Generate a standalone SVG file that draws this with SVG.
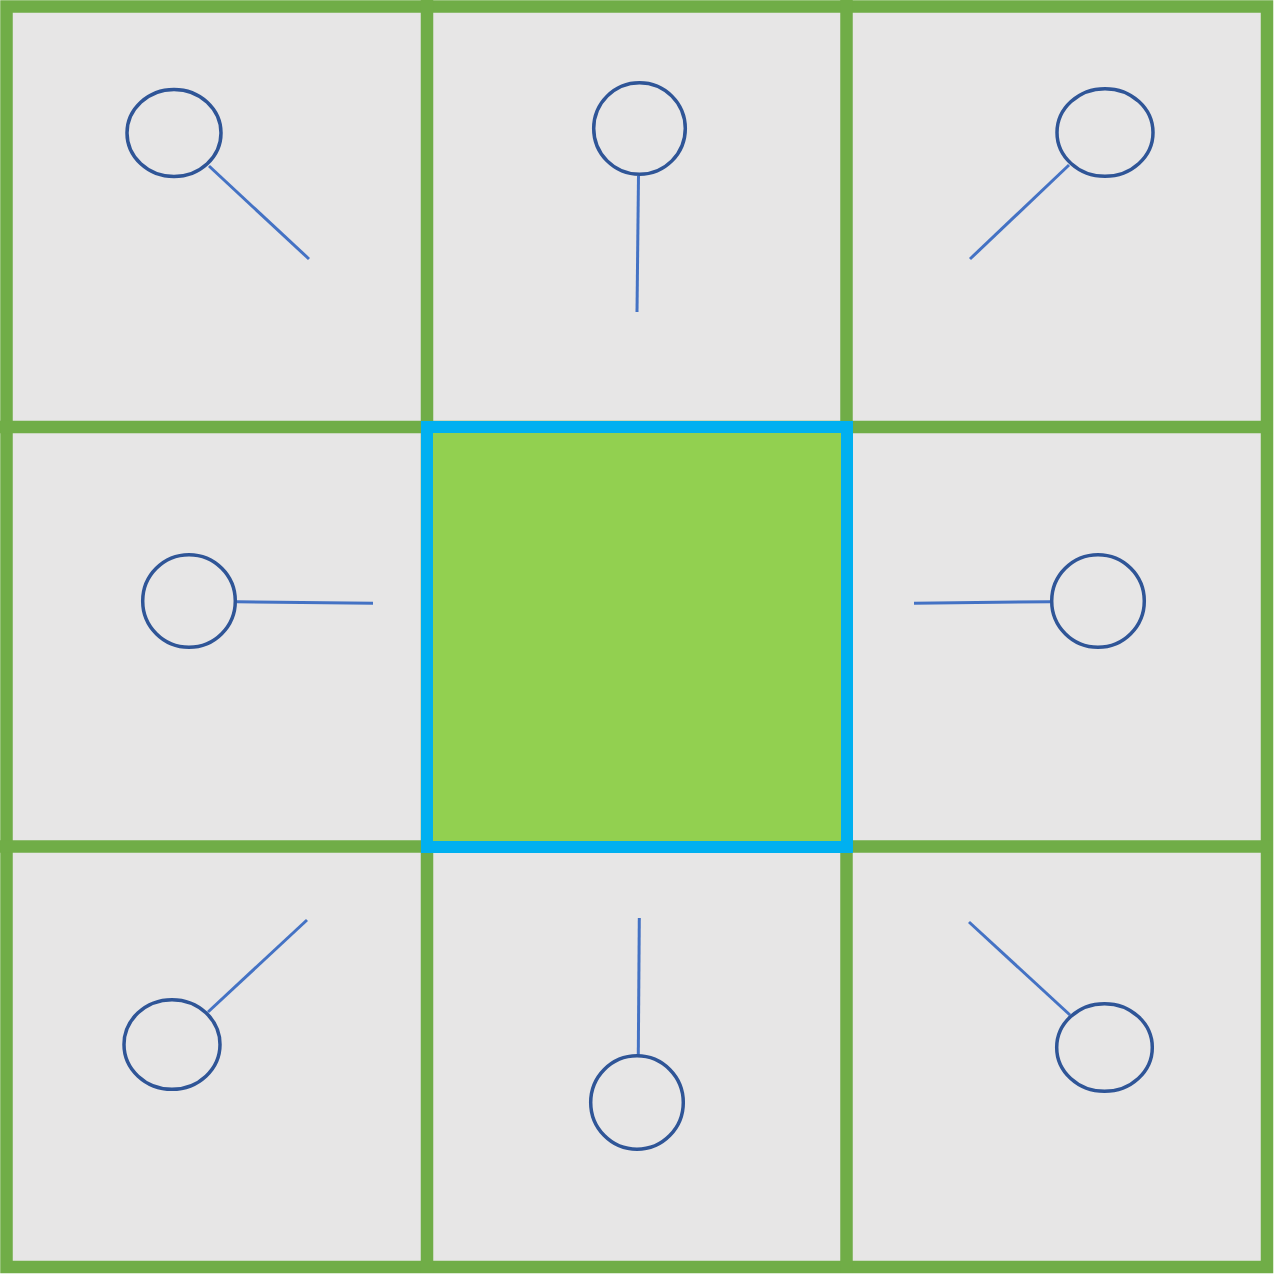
<svg xmlns="http://www.w3.org/2000/svg" width="1280" height="1280" viewBox="0 0 1280 1280">
  <style>
    .cell { fill: #E7E6E6; }
    .grid { stroke: #70AD47; stroke-width: 12.5; fill: none; }
    .pin { fill: none; stroke: #2F5597; stroke-width: 3.5; }
    .stem { stroke: #4472C4; stroke-width: 3; fill: none; }
  </style>
  <rect x="0" y="0" width="1280" height="1280" fill="#FFFFFF"/>
  <rect class="cell" x="6" y="6" width="1262" height="1262"/>

  <g id="grid">
    <rect class="grid" x="6.5" y="6.5" width="1260.5" height="1260.5"/>
    <line class="grid" x1="427" y1="0" x2="427" y2="1273"/>
    <line class="grid" x1="846.5" y1="0" x2="846.5" y2="1273"/>
    <line class="grid" x1="0" y1="427" x2="1273" y2="427"/>
    <line class="grid" x1="0" y1="846.5" x2="1273" y2="846.5"/>
  </g>

  <g id="center">
    <rect x="427" y="427" width="420" height="420" fill="#92D050" stroke="#00B0F0" stroke-width="12"/>
  </g>

  <g id="connectors">
    <line class="stem" x1="209" y1="166" x2="309" y2="259"/>
    <line class="stem" x1="638.5" y1="176" x2="637" y2="312"/>
    <line class="stem" x1="1069" y1="165" x2="970" y2="259"/>
    <line class="stem" x1="237" y1="601.7" x2="373" y2="603.3"/>
    <line class="stem" x1="914" y1="603.3" x2="1050" y2="601.7"/>
    <line class="stem" x1="208" y1="1012" x2="307" y2="920"/>
    <line class="stem" x1="639.3" y1="918" x2="638.3" y2="1055"/>
    <line class="stem" x1="969" y1="922" x2="1070" y2="1015"/>
  </g>

  <g id="pin-top-left"><ellipse class="pin" cx="174" cy="133" rx="47" ry="43.5"/></g>
  <g id="pin-top"><ellipse class="pin" cx="639.5" cy="128.5" rx="45.8" ry="45.8"/></g>
  <g id="pin-top-right"><ellipse class="pin" cx="1105" cy="132.5" rx="48" ry="43.8"/></g>
  <g id="pin-left"><ellipse class="pin" cx="189" cy="601" rx="46.3" ry="46.3"/></g>
  <g id="pin-right"><ellipse class="pin" cx="1098" cy="601" rx="46.3" ry="46.3"/></g>
  <g id="pin-bottom-left"><ellipse class="pin" cx="172" cy="1044.5" rx="48" ry="44.8"/></g>
  <g id="pin-bottom"><ellipse class="pin" cx="637" cy="1102.5" rx="46.3" ry="46.8"/></g>
  <g id="pin-bottom-right"><ellipse class="pin" cx="1104.5" cy="1047.5" rx="47.8" ry="43.8"/></g>
</svg>
